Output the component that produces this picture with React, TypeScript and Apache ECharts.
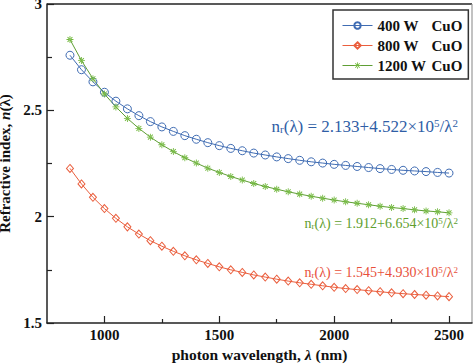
import React, { useEffect, useRef } from "react";
import * as echarts from "echarts";

const wavelengths = [850, 900, 950, 1000, 1050, 1100, 1150, 1200, 1250, 1300, 1350, 1400, 1450, 1500, 1550, 1600, 1650, 1700, 1750, 1800, 1850, 1900, 1950, 2000, 2050, 2100, 2150, 2200, 2250, 2300, 2350, 2400, 2450, 2500];

const n400 = [2.759, 2.691, 2.634, 2.585, 2.543, 2.507, 2.475, 2.447, 2.422, 2.401, 2.381, 2.364, 2.348, 2.334, 2.321, 2.310, 2.299, 2.290, 2.281, 2.273, 2.265, 2.258, 2.252, 2.246, 2.241, 2.236, 2.231, 2.226, 2.222, 2.218, 2.215, 2.212, 2.208, 2.205];
const n800 = [2.227, 2.154, 2.091, 2.038, 1.992, 1.952, 1.918, 1.887, 1.861, 1.837, 1.816, 1.797, 1.780, 1.764, 1.750, 1.738, 1.726, 1.716, 1.706, 1.697, 1.689, 1.682, 1.675, 1.668, 1.662, 1.657, 1.652, 1.647, 1.642, 1.638, 1.634, 1.631, 1.627, 1.624];
const n1200 = [2.833, 2.734, 2.649, 2.577, 2.516, 2.462, 2.415, 2.374, 2.338, 2.306, 2.277, 2.252, 2.228, 2.208, 2.189, 2.172, 2.156, 2.142, 2.129, 2.117, 2.106, 2.096, 2.087, 2.078, 2.070, 2.063, 2.056, 2.049, 2.043, 2.038, 2.032, 2.027, 2.023, 2.018];

const seriesNames = ["400 W CuO", "800 W CuO", "1200 W CuO"];
const xMajorTicks = [1000, 1500, 2000, 2500];
const xMinorTicks = [1250, 1750, 2250];
const formulas = [
  "n{sub|r}(λ) = 2.133+4.522×10{sup|5}/λ{sup|2}",
  "n{sub|r}(λ) = 1.912+6.654×10{sup|5}/λ{sup|2}",
  "n{sub|r}(λ) = 1.545+4.930×10{sup|5}/λ{sup|2}",
];

const SERIF = '"Liberation Serif", "Times New Roman", serif';
const BLUE = "#3F6CB3";
const RED = "#EA5E3D";
const GREEN = "#72B83E";
const GREEN_LINE = "#5F9E35";

const ASTERISK =
  "path://M-1.2,-10L1.2,-10L1.2,10L-1.2,10Z M-10,-1.2L10,-1.2L10,1.2L-10,1.2Z M-6,-7.9L7.9,6L6,7.9L-7.9,-6Z M-6,7.9L7.9,-6L6,-7.9L-7.9,6Z";

export default function App() {
  const ref = useRef<HTMLDivElement>(null);
  useEffect(() => {
    if (!ref.current) return;
    const chart = echarts.init(ref.current, null, { renderer: "svg" });
    const toPairs = (ys: number[]) => wavelengths.map((x, i) => [x, ys[i]]);
    const mkFormula = (text: string, x: number, y: number, color: string, size: number) => ({
      type: "text",
      x,
      y,
      z: 100,
      style: {
        text,
        fill: color,
        fontFamily: SERIF,
        fontSize: size,
        align: "right",
        verticalAlign: "middle",
        rich: {
          sub: { fontSize: Math.round(size * 0.62), fontFamily: SERIF, fill: color, verticalAlign: "bottom", lineHeight: 9 },
          sup: { fontSize: Math.round(size * 0.62), fontFamily: SERIF, fill: color, verticalAlign: "top", lineHeight: 9 },
        },
      },
    });
    const axisName = { fontFamily: SERIF, fontWeight: "bold", fontSize: 15, color: "#111", lineHeight: 15 };
    chart.setOption({
      animation: false,
      grid: { left: 47, top: 4, right: 2, bottom: 41, show: false, containLabel: false, outerBoundsMode: "none" },
      legend: {
        orient: "vertical",
        left: 333,
        top: 10,
        padding: [7, 6, 5, 9],
        itemGap: 3,
        itemWidth: 30,
        itemHeight: 8,
        borderColor: "#333",
        borderWidth: 1.5,
        data: seriesNames,
        lineStyle: { width: 1 },
        formatter: (name: string) => `{a|${name.replace(" CuO", "")}}{b|CuO}`,
        textStyle: {
          fontFamily: SERIF,
          fontWeight: "bold",
          fontSize: 15,
          color: "#111",
          lineHeight: 17,
          rich: {
            a: { fontFamily: SERIF, fontWeight: "bold", fontSize: 15, width: 54, lineHeight: 17 },
            b: { fontFamily: SERIF, fontWeight: "bold", fontSize: 15, lineHeight: 17 },
          },
        },
      },
      xAxis: [
        {
          type: "value",
          min: 750,
          max: 2600,
          name: "photon wavelength, {i|λ} (nm)",
          nameLocation: "middle",
          nameGap: 14,
          nameTextStyle: { ...axisName, fontSize: 15.5, lineHeight: 16, rich: { i: { ...axisName, fontSize: 15.5, lineHeight: 16, fontStyle: "italic" } } },
          axisLine: { lineStyle: { color: "#222", width: 1.5 } },
          axisTick: { inside: true, length: 7, lineStyle: { color: "#222", width: 1.2 }, customValues: xMajorTicks },
          axisLabel: {
            customValues: xMajorTicks,
            margin: 4,
            fontFamily: SERIF,
            fontWeight: "bold",
            fontSize: 15,
            color: "#111",
            formatter: (v: number) => String(v),
          },
          splitLine: { show: false },
        },
        {
          type: "value",
          min: 750,
          max: 2600,
          position: "bottom",
          axisLine: { show: false },
          axisTick: { inside: true, length: 4, lineStyle: { color: "#222", width: 1.2 }, customValues: xMinorTicks },
          axisLabel: { show: false },
          splitLine: { show: false },
        },
      ],
      yAxis: {
        type: "value",
        min: 1.5,
        max: 3,
        interval: 0.5,
        name: "Refractive index, {i|n}(λ)",
        nameLocation: "middle",
        nameGap: 26,
        nameTextStyle: { ...axisName, rich: { i: { ...axisName, fontStyle: "italic" } } },
        axisLine: { show: true, lineStyle: { color: "#222", width: 1.5 } },
        axisTick: { show: true, inside: true, length: 7, lineStyle: { color: "#222", width: 1.2 } },
        minorTick: { show: true, splitNumber: 2, length: 5, lineStyle: { color: "#222", width: 1.2 } },
        axisLabel: {
          margin: 5,
          fontFamily: SERIF,
          fontWeight: "bold",
          fontSize: 15,
          color: "#111",
          formatter: (v: number) => String(v),
        },
        splitLine: { show: false },
        minorSplitLine: { show: false },
      },
      series: [
        {
          name: seriesNames[0],
          type: "line",
          data: toPairs(n400),
          symbol: "circle",
          symbolSize: 8,
          lineStyle: { color: BLUE, width: 1 },
          itemStyle: { color: "rgba(255,255,255,0)", borderColor: BLUE, borderWidth: 1 },
        },
        {
          name: seriesNames[1],
          type: "line",
          data: toPairs(n800),
          symbol: "diamond",
          symbolSize: [7, 8],
          lineStyle: { color: RED, width: 1 },
          itemStyle: { color: "rgba(255,255,255,0)", borderColor: RED, borderWidth: 1 },
        },
        {
          name: seriesNames[2],
          type: "line",
          data: toPairs(n1200),
          symbol: ASTERISK,
          symbolSize: 7,
          lineStyle: { color: GREEN_LINE, width: 1 },
          itemStyle: { color: GREEN, borderWidth: 0 },
        },
      ],
      graphic: [
        { type: "line", shape: { x1: 47, y1: 4, x2: 472, y2: 4 }, style: { stroke: "#222", lineWidth: 1.5 } },
        { type: "line", shape: { x1: 472, y1: 4, x2: 472, y2: 323 }, style: { stroke: "#999", lineWidth: 1.2 } },
        mkFormula(formulas[0], 458, 126, "#2F5EA6", 17),
        mkFormula(formulas[1], 458, 223, "#5E9E2E", 14),
        mkFormula(formulas[2], 458, 272, "#E8503A", 14),
      ],
    });
    return () => chart.dispose();
  }, []);
  return <div ref={ref} style={{ width: 474, height: 364, position: "absolute", left: 0, top: 0 }} />;
}
